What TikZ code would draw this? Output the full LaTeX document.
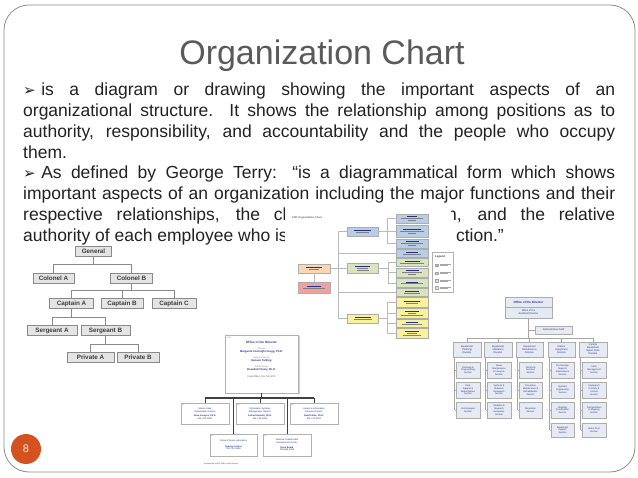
\documentclass[tikz,border=0pt]{standalone}
\usepackage{fontspec}
\setmainfont{Liberation Sans}
\newfontfamily\djv{DejaVu Sans}
\usetikzlibrary{calc}
\definecolor{titlec}{HTML}{5A5A5A}
\definecolor{bodyc}{HTML}{222222}
\definecolor{framec}{HTML}{8C8C8C}
\definecolor{milfill}{HTML}{E4E4E4}
\definecolor{milborder}{HTML}{8A8A8A}
\definecolor{miltext}{HTML}{3C3C3C}
\definecolor{navyc}{HTML}{23318C}
\definecolor{pagec}{HTML}{D4521F}
\definecolor{fblue}{HTML}{B9CDE5}
\definecolor{fgreen}{HTML}{D7E4BD}
\definecolor{fyellow}{HTML}{F8F29C}
\definecolor{fpeach}{HTML}{FCD5B5}
\definecolor{fred}{HTML}{F2A09E}
\definecolor{rfill}{HTML}{E6EAF2}
\newcommand\txtbar[2]{\textcolor{#2}{\rule{#1}{0.55pt}}}
\newcommand\bulletmark{{\djv\fontsize{15}{15}\selectfont ➢}\hspace{5.5pt}}
\begin{document}
\begin{tikzpicture}[x=1pt,y=-1pt,
  milbox/.style={draw=milborder, line width=0.5pt, fill=milfill, text=miltext,
    font=\bfseries\fontsize{6.3}{7}\selectfont, inner sep=0, minimum height=10pt},
  milline/.style={draw=milborder, line width=0.6pt},
  frdbox/.style={draw=gray!65, line width=0.35pt, inner sep=0, align=center,
    font=\fontsize{1.5}{1.9}\selectfont, minimum width=32pt},
  frdline/.style={draw=gray!55, line width=0.45pt},
  nbox/.style={draw=gray!60, line width=0.4pt, fill=white, inner sep=0},
  nshadow/.style={fill=gray!35},
  ntext/.style={align=center, inner sep=0, text=navyc, font=\fontsize{2.3}{2.9}\selectfont},
  rbox/.style={draw=gray!65, line width=0.4pt, fill=rfill, inner sep=0, align=center,
    text=navyc, font=\fontsize{2.5}{3}\selectfont},
  rline/.style={draw=gray!70, line width=0.45pt}]
\useasboundingbox (0,0) rectangle (638,478);
\fill[white] (0,0) rectangle (638,478);
% slide frame
\draw[framec, line width=0.8pt, rounded corners=25pt] (4,5) rectangle (635,472);
% title
\node[font=\fontsize{34}{40}\selectfont, text=titlec, anchor=base, inner sep=0] (title) at (322,65) {Organization Chart};
% body text (parts hidden behind the FRD picture are kept as blank space)
\node[anchor=north west, inner sep=0, text width=592pt, align=justify, text=bodyc,
  font=\fontsize{17.5}{20.9}\selectfont] (body) at (23,80.5)
{\strut\bulletmark is a diagram or drawing showing the important aspects of an\linebreak
organizational structure. It shows the relationship among positions as to\linebreak
authority, responsibility, and accountability and the people who occupy\linebreak
them.\par
\strut\bulletmark As defined by George Terry: “is a diagrammatical form which shows\linebreak
important aspects of an organization including the major functions and their\linebreak
respective relationships, the ch\phantom{annels of supervisio}n, and the relative\linebreak
authority of each employee who is\ \phantom{in charge of each fun}ction.”};

% ================= FRD chart (covers part of text) =================
\fill[white] (285,204) rectangle (451,340);
\node[anchor=west, inner sep=0, text=gray!80!black, font=\bfseries\fontsize{2.6}{3}\selectfont] (frdt) at (292,218) {FRD Organization Chart};
\node[frdbox, fill=fpeach, minimum height=9pt] (pb) at (314,268.5) {\txtbar{16pt}{navyc}\\\txtbar{10pt}{gray}};
\node[frdbox, fill=fred, minimum height=11pt] (rb) at (314,287.5) {\txtbar{14pt}{navyc}\\\txtbar{22pt}{gray}};
\node[frdbox, fill=fblue, minimum width=31pt, minimum height=9pt] (bm) at (362.5,231.5) {\txtbar{17pt}{navyc}\\\txtbar{13pt}{gray}};
\node[frdbox, fill=fgreen, minimum width=31pt, minimum height=10pt] (gm) at (362.5,268) {\txtbar{15pt}{navyc}\\\txtbar{11pt}{gray}\\\txtbar{12pt}{gray}};
\node[frdbox, fill=fyellow, minimum width=31pt, minimum height=9pt] (ym) at (362.5,318.5) {\txtbar{16pt}{navyc}\\\txtbar{18pt}{gray}};
% right column
\node[frdbox, fill=fblue, minimum height=9pt] (b1) at (412,218.5) {\txtbar{10pt}{navyc}\\\txtbar{22pt}{gray}\\\txtbar{8pt}{gray}};
\node[frdbox, fill=fblue, minimum height=12.5pt] (b2) at (412,231) {\txtbar{18pt}{navyc}\\\txtbar{24pt}{gray}\\\txtbar{8pt}{gray}};
\node[frdbox, fill=fblue, minimum height=9pt] (b3) at (412,243.5) {\txtbar{13pt}{navyc}\\\txtbar{22pt}{gray}\\\txtbar{8pt}{gray}};
\node[frdbox, fill=fblue, minimum height=7.5pt] (b4) at (412,253.25) {\txtbar{12pt}{navyc}\\\txtbar{18pt}{gray}};
\node[frdbox, fill=fgreen, minimum height=8pt] (g1) at (412,262.5) {\txtbar{15pt}{navyc}\\\txtbar{24pt}{gray}};
\node[frdbox, fill=fgreen, minimum height=9pt] (g2) at (412,272.5) {\txtbar{13pt}{navyc}\\\txtbar{20pt}{gray}\\\txtbar{8pt}{gray}};
\node[frdbox, fill=fgreen, minimum height=8.5pt] (g3) at (412,282.75) {\txtbar{12pt}{navyc}\\\txtbar{22pt}{gray}};
\node[frdbox, fill=fgreen, minimum height=7.5pt] (g4) at (412,292.25) {\txtbar{14pt}{navyc}\\\txtbar{16pt}{gray}};
\node[frdbox, fill=fyellow, minimum height=9.5pt] (y1) at (412,302.25) {\txtbar{16pt}{navyc}\\\txtbar{12pt}{gray}};
\node[frdbox, fill=fyellow, minimum height=9.5pt] (y2) at (412,313.25) {\txtbar{14pt}{navyc}\\\txtbar{8pt}{gray}\\\txtbar{22pt}{gray}};
\node[frdbox, fill=fyellow, minimum height=7.5pt] (y3) at (412,323.25) {\txtbar{12pt}{navyc}\\\txtbar{20pt}{gray}};
\node[frdbox, fill=fyellow, minimum height=9.5pt] (y4) at (412,333.25) {\txtbar{14pt}{navyc}\\\txtbar{10pt}{gray}\\\txtbar{18pt}{gray}};
% FRD connectors
\coordinate (trx) at (338,231.5);
\coordinate (sbx) at (387,231.5);
\coordinate (sgx) at (388,268);
\coordinate (syx) at (387,318.5);
\draw[frdline] (pb.south) -- (rb.north);
\draw[frdline] (pb.east) -- (pb.east -| trx);
\draw[frdline] (bm.west -| trx) -- (ym.west -| trx);
\draw[frdline] (bm.west -| trx) -- (bm.west);
\draw[frdline] (gm.west -| trx) -- (gm.west);
\draw[frdline] (ym.west -| trx) -- (ym.west);
\draw[frdline] (b4.west -| trx) -- (b4.west);
\draw[frdline] (g4.west -| trx) -- (g4.west);
\draw[frdline] (bm.east) -- (bm.east -| sbx);
\draw[frdline] (b1.west -| sbx) -- (b3.west -| sbx);
\foreach \n in {b1,b2,b3} \draw[frdline] (\n.west -| sbx) -- (\n.west);
\draw[frdline] (gm.east) -- (gm.east -| sgx);
\draw[frdline] (g1.west -| sgx) -- (g3.west -| sgx);
\foreach \n in {g1,g2,g3} \draw[frdline] (\n.west -| sgx) -- (\n.west);
\draw[frdline] (ym.east) -- (ym.east -| syx);
\draw[frdline] (y1.west -| syx) -- (y4.west -| syx);
\foreach \n in {y1,y2,y3,y4} \draw[frdline] (\n.west -| syx) -- (\n.west);
% legend
\node[draw=gray!60, line width=0.4pt, fill=white, minimum width=21pt, minimum height=40pt, inner sep=0] (leg) at (443,272) {};
\node[anchor=west, inner sep=0, font=\bfseries\fontsize{2.8}{3}\selectfont, text=black!75] (legt) at (435,257) {Legend};
\foreach \c/\yy in {fred/265, fblue/273, fgreen/280.5, fyellow/287.5}{
  \filldraw[fill=\c, draw=gray!70, line width=0.3pt] (435,\yy-1.3) rectangle (438.5,\yy+1.3);
  \fill[gray!70] (440,\yy-0.9) rectangle (451,\yy-0.4);
  \fill[gray!70] (440,\yy+0.4) rectangle (448,\yy+0.9);
}

% ================= military chart =================
\node[milbox, minimum width=36pt] (gen) at (93.5,251.5) {General};
\node[milbox, minimum width=41pt] (cola) at (53.5,278) {Colonel A};
\node[milbox, minimum width=42pt] (colb) at (131.5,278) {Colonel B};
\node[milbox, minimum width=44pt] (capa) at (71.5,303.5) {Captain A};
\node[milbox, minimum width=42pt] (capb) at (122,303.5) {Captain B};
\node[milbox, minimum width=44pt] (capc) at (174,303.5) {Captain C};
\node[milbox, minimum width=50pt] (sera) at (52,330.5) {Sergeant A};
\node[milbox, minimum width=49pt] (serb) at (105.5,330.5) {Sergeant B};
\node[milbox, minimum width=47pt] (prva) at (90.5,357.5) {Private A};
\node[milbox, minimum width=42pt] (prvb) at (138,357.5) {Private B};
\coordinate (m1) at (0,264);
\coordinate (m2) at (0,290);
\coordinate (m3) at (0,317);
\coordinate (m4) at (0,344);
\draw[milline] (gen.south) -- (gen.south |- m1);
\draw[milline] (cola.north) |- (colb.north |- m1) -- (colb.north);
\draw[milline] (colb.south) -- (colb.south |- m2);
\draw[milline] (capa.north) |- (capc.north |- m2) -- (capc.north);
\draw[milline] (capb.north) -- (capb.north |- m2);
\draw[milline] (capa.south) -- (capa.south |- m3);
\draw[milline] (sera.north) |- (serb.north |- m3) -- (serb.north);
\draw[milline] (serb.south) -- (serb.south |- m4);
\draw[milline] (prva.north) |- (prvb.north |- m4) -- (prvb.north);

% ================= NODC chart =================
\fill[nshadow] (226.5,336.5) rectangle (299.5,394.5);
\node[nbox, minimum width=73pt, minimum height=58pt] (dir) at (261.5,364) {};
\node[anchor=west, inner sep=0, text=gray, font=\fontsize{1.8}{2}\selectfont] (dirtag) at (227,337.5) {ODD};
\node[ntext, anchor=north] (dirtxt) at (261.5,341.5) {{\bfseries\fontsize{3.1}{3.6}\selectfont Office of the Director}\\[3pt]
{\color{gray}Director}\\{\bfseries\fontsize{2.7}{3.2}\selectfont Margarita Conkright Gregg, Ph.D.}\\[3pt]
{\color{gray}Deputy Director}\\{\bfseries\fontsize{2.7}{3.2}\selectfont Haneen Tarbleg}\\[3pt]
{\color{gray}Administrator}\\{\bfseries\fontsize{2.7}{3.2}\selectfont Rosalind Cleary, Ph.D.}\\[4pt]
{\color{black!70}Front Office: 301-713-3270}};
\coordinate (nb) at (0,398);
\foreach \n/\xx/\yy/\w/\h in {r1a/205/413.5/48/21, r1b/260/413.5/48/21, r1c/314/413.5/48/21, r2a/233.5/445/47/22, r2b/287/445/48/22}{
  \fill[nshadow] (\xx-\w/2+1.2,\yy-\h/2+1.2) rectangle (\xx+\w/2+1.2,\yy+\h/2+1.2);
  \node[nbox, minimum width=\w pt, minimum height=\h pt] (\n) at (\xx,\yy) {};
  \node[anchor=west, inner sep=0, text=gray, font=\fontsize{1.6}{2}\selectfont] at (\xx-\w/2+1,\yy-\h/2+1.5) {Div};
}
\node[ntext] (r1at) at (r1a) {Marine Data\\Stewardship Division\\[1.5pt]{\bfseries Krisa Arzayus, Ph.D.}\\301-713-3280};
\node[ntext] (r1bt) at (r1b) {Information Systems\\Management Division\\[1.5pt]{\bfseries Farhad Hamadi, Ph.D.}\\301-713-3284};
\node[ntext] (r1ct) at (r1c) {Liaison \& Information\\Services Division\\[1.5pt]{\bfseries Neal Dobbs, Ph.D.}\\301-713-3267};
\node[ntext] (r2at) at (r2a) {Ocean Climate Laboratory\\[2.5pt]{\bfseries Sydney Levitus}\\301-713-3294};
\node[ntext] (r2bt) at (r2b) {National Coastal Data\\Development Center\\[1.5pt]{\bfseries Russ Beard}\\228-688-2936};
\draw[line width=1.1pt, black!75] (r1a.north |- nb) -- (r1c.north |- nb);
\draw[line width=0.9pt, black!75] (dir.south) -- (dir.south |- nb);
\foreach \n in {r1a,r1b,r1c,r2a,r2b} \draw[line width=0.8pt, black!75] (\n.north |- nb) -- (\n.north);
\node[inner sep=0, text=red!80!black, font=\fontsize{1.9}{2}\selectfont] (nred) at (221,464) {Prepared by NODC Office of the Director};

% ================= equipment chart =================
\node[rbox, minimum width=47pt, minimum height=10pt, font=\bfseries\fontsize{3}{3.5}\selectfont] (od) at (528.5,302) {Office of the Director};
\node[rbox, minimum width=47pt, minimum height=11pt] (ad) at (528.5,312.5) {Office of the\\Assistant Director};
\node[rbox, minimum width=37pt, minimum height=8pt] (as) at (553.5,330) {Administrative Staff};
\coordinate (rb0) at (0,338);
\draw[rline] (ad.south) -- (ad.south |- rb0);
\draw[rline] (as.west) -- (as.west -| ad.south);
\node[rbox, minimum width=28pt, minimum height=15pt] (d1) at (467,349.5) {Equipment\\Planning\\Division};
\node[rbox, minimum width=28pt, minimum height=15pt] (d2) at (498,349.5) {Equipment\\Utilization\\Division};
\node[rbox, minimum width=27pt, minimum height=15pt] (d3) at (529.5,349.5) {Equipment\\Maintenance\\Division};
\node[rbox, minimum width=27pt, minimum height=15pt] (d4) at (561.5,349.5) {Marine\\Equipment\\Division};
\node[rbox, minimum width=28pt, minimum height=15pt] (d5) at (593,349.5) {Central\\Equipment\\Spare Parts\\Division};
\draw[rline] (d1.north |- rb0) -- (d5.north |- rb0);
\foreach \n in {d1,d2,d3,d4,d5} \draw[rline] (\n.north |- rb0) -- (\n.north);
% sections
\foreach \d/\xx/\w/\k/\ta/\tb/\tc/\td in {
  d1/467/28/3/{Planning \&\\Programming\\Section}/{Data\\Support \&\\Modernization\\Section}/{Cost Analysis\\Section}/{},
  d2/498/28/3/{Naval\\Maintenance\\\& Lifecycle\\Section}/{Systems \&\\Materials\\Evaluation\\Section}/{Statistics \&\\Research\\Evaluation\\Section}/{},
  d3/529.5/27/3/{Technical\\Services\\Section}/{Preventive\\Maintenance \&\\Rehabilitation\\Section}/{Dispatcher\\Section}/{},
  d4/561.5/27/4/{Pre-Develop\\Repair \&\\Maintenance\\Section}/{Systems\\Engineering\\Section}/{Shipping\\Coordination\\Section}/{Equipment\\Support\\Section},
  d5/593/28/4/{Parts\\Management\\Section}/{Equipment\\Custody \&\\Control\\Section}/{Transportation\\\& Shipping\\Section}/{Motor Pool\\Section}}{
  \node[rbox, font=\fontsize{2.3}{2.8}\selectfont, minimum width=\w pt-4pt, minimum height=16pt] (\d s1) at (\xx+1,370) {\ta};
  \node[rbox, font=\fontsize{2.3}{2.8}\selectfont, minimum width=\w pt-4pt, minimum height=16pt] (\d s2) at (\xx+1,390) {\tb};
  \node[rbox, font=\fontsize{2.3}{2.8}\selectfont, minimum width=\w pt-4pt, minimum height=16pt] (\d s3) at (\xx+1,410) {\tc};
  \coordinate (\d L) at (\xx-\w/2+1.5,0);
  \ifnum\k=4
    \node[rbox, font=\fontsize{2.3}{2.8}\selectfont, minimum width=\w pt-4pt, minimum height=14pt] (\d s4) at (\xx+1,430) {\td};
    \draw[rline] (\d L |- \d.south) -- (\d L |- \d s4.west);
    \draw[rline] (\d L |- \d s4.west) -- (\d s4.west);
  \else
    \draw[rline] (\d L |- \d.south) -- (\d L |- \d s3.west);
  \fi
  \foreach \s in {s1,s2,s3} \draw[rline] (\d L |- \d\s.west) -- (\d\s.west);
}

% page number
\node[circle, fill=pagec, minimum size=30pt, inner sep=0, text=white!92!orange, font=\fontsize{11}{12}\selectfont] (pg) at (26,449) {8};
\end{tikzpicture}
\end{document}
